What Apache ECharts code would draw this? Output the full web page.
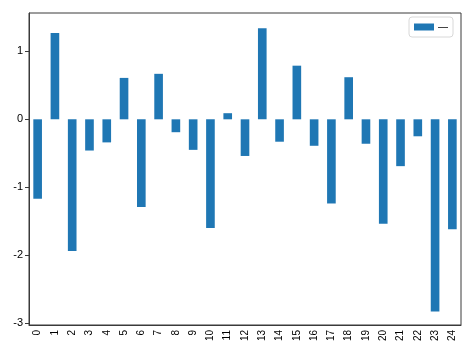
<!DOCTYPE html>
<html>
<head>
<meta charset="utf-8">
<script src="https://cdn.jsdelivr.net/npm/echarts@6/dist/echarts.min.js"></script>
<style>html,body{margin:0;padding:0;background:#fff;}#c{width:474px;height:355px;}</style>
</head>
<body>
<div id="c"></div>
<script>
const categories = ['0','1','2','3','4','5','6','7','8','9','10','11','12','13','14','15','16','17','18','19','20','21','22','23','24'];
const values = [-1.17, 1.27, -1.94, -0.46, -0.34, 0.61, -1.29, 0.67, -0.19, -0.45, -1.60, 0.09, -0.54, 1.34, -0.33, 0.79, -0.39, -1.24, 0.62, -0.36, -1.54, -0.69, -0.25, -2.83, -1.62];
const yTicks = [-3, -2, -1, 0, 1];
const seriesName = '—';

const chart = echarts.init(document.getElementById('c'));
chart.setOption({
  animation: false,
  textStyle: { fontFamily: 'Liberation Sans, Arial, sans-serif' },
  grid: { left: 29, top: 13, right: 13, bottom: 30, show: true, borderColor: '#3a3a3a', borderWidth: 1, backgroundColor: 'transparent' },
  legend: {
    right: 21, top: 17,
    data: [{ name: seriesName, icon: 'rect' }],
    borderColor: '#d8d8d8', borderWidth: 1, borderRadius: 3,
    padding: [5, 5],
    itemWidth: 20, itemHeight: 7, itemGap: 5,
    textStyle: { fontSize: 10, color: '#000', padding: [0,0,0,-1] },
    backgroundColor: '#fff'
  },
  xAxis: {
    type: 'category',
    data: categories,
    boundaryGap: true,
    axisLine: { onZero: false, lineStyle: { color: '#3a3a3a', width: 1 } },
    axisTick: { alignWithLabel: true, length: 4, lineStyle: { color: '#3a3a3a' } },
    axisLabel: { rotate: 90, fontSize: 10, color: '#000', margin: 5, interval: 0 },
    splitLine: { show: false }
  },
  yAxis: {
    type: 'value',
    min: -3.03, max: 1.566,
    axisLine: { show: true, lineStyle: { color: '#3a3a3a', width: 1 } },
    axisTick: { show: true, length: 4, customValues: yTicks, lineStyle: { color: '#3a3a3a' } },
    axisLabel: { fontSize: 11, color: '#000', margin: 6, customValues: yTicks, formatter: v => String(Math.round(v)) },
    splitLine: { show: false }
  },
  series: [{
    name: seriesName,
    type: 'bar',
    data: values,
    barWidth: '50%',
    itemStyle: { color: '#1f77b4' }
  }]
});
</script>
</body>
</html>
